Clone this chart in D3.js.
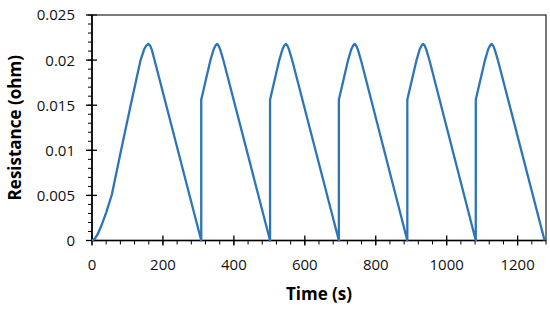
<!DOCTYPE html>
<html>
<head>
<meta charset="utf-8">
<script src="https://cdn.jsdelivr.net/npm/d3@7"></script>
<style>
  body { margin: 0; background: #fff; }
  svg { display: block; }
  .tick-label { font-family: "Open Sans", sans-serif; font-size: 15px; fill: #111; }
  .axis-title { font-family: "Open Sans", sans-serif; font-size: 17px; font-weight: bold; fill: #000; }
</style>
</head>
<body>
<div id="chart"></div>
<script>
// readings: [time (s), resistance (ohm)]
var cycle1 = [[0, 0], [8, 0.0002], [16, 0.0007], [26, 0.0016], [40, 0.0031], [56, 0.0051],
  [82, 0.0100], [109, 0.0150], [137, 0.0200], [147, 0.0212], [153, 0.0216], [159, 0.0218],
  [164, 0.0216], [169, 0.0211], [177, 0.0199], [308, 0]];
var cycle2 = [[308, 0.0156], [334, 0.0200], [343, 0.0212], [348, 0.0216], [353, 0.0218],
  [357, 0.0216], [362, 0.0211], [371, 0.0199], [502, 0]];
var cycle3 = [[502, 0.0156], [528, 0.0200], [537, 0.0212], [542, 0.0216], [547, 0.0218],
  [551, 0.0216], [556, 0.0211], [565, 0.0199], [696, 0]];
var cycle4 = [[696, 0.0156], [722, 0.0200], [731, 0.0212], [736, 0.0216], [741, 0.0218],
  [745, 0.0216], [750, 0.0211], [759, 0.0199], [889, 0]];
var cycle5 = [[889, 0.0156], [915, 0.0200], [924, 0.0212], [929, 0.0216], [934, 0.0218],
  [938, 0.0216], [943, 0.0211], [952, 0.0199], [1082, 0]];
var cycle6 = [[1082, 0.0156], [1108, 0.0200], [1117, 0.0212], [1122, 0.0216], [1127, 0.0218],
  [1131, 0.0216], [1136, 0.0211], [1145, 0.0199], [1276, 0]];

var xTicks = [0, 200, 400, 600, 800, 1000, 1200];
var yTicks = [0, 0.005, 0.01, 0.015, 0.02, 0.025];
var yTickLabels = ["0", "0.005", "0.01", "0.015", "0.02", "0.025"];
var xMax = 1280;
var yMax = 0.025;

var data = [].concat(cycle1, cycle2, cycle3, cycle4, cycle5, cycle6);

var svgWidth = 550;
var svgHeight = 311;
var margin = { top: 15, right: 4, bottom: 70.5, left: 92 };
var width = svgWidth - margin.left - margin.right;
var height = svgHeight - margin.top - margin.bottom;

var svg = d3.select("#chart").append("svg")
  .attr("width", svgWidth)
  .attr("height", svgHeight);

var chartGroup = svg.append("g")
  .attr("transform", `translate(${margin.left}, ${margin.top})`);

var xScale = d3.scaleLinear().domain([0, xMax]).range([0, width]);
var yScale = d3.scaleLinear().domain([0, yMax]).range([height, 0]);

// minor ticks (outside only)
var xMinor = d3.range(0, xMax + 1, 40);
var yMinor = d3.range(0, 26).map(d => d / 1000);

chartGroup.selectAll(".xminor").data(xMinor).enter().append("line")
  .attr("x1", d => xScale(d)).attr("x2", d => xScale(d))
  .attr("y1", height).attr("y2", height + 4)
  .attr("stroke", "#000").attr("stroke-width", 1);

chartGroup.selectAll(".yminor").data(yMinor).enter().append("line")
  .attr("y1", d => yScale(d)).attr("y2", d => yScale(d))
  .attr("x1", -4).attr("x2", 0)
  .attr("stroke", "#000").attr("stroke-width", 1);

// major ticks cross the axis
chartGroup.selectAll(".xmajor").data(xTicks).enter().append("line")
  .attr("x1", d => xScale(d)).attr("x2", d => xScale(d))
  .attr("y1", height - 5).attr("y2", height + 5)
  .attr("stroke", "#000").attr("stroke-width", 1.3);

chartGroup.selectAll(".ymajor").data(yTicks).enter().append("line")
  .attr("y1", d => yScale(d)).attr("y2", d => yScale(d))
  .attr("x1", -6).attr("x2", 5)
  .attr("stroke", "#000").attr("stroke-width", 1.3);

// tick labels
chartGroup.selectAll(".xlab").data(xTicks).enter().append("text")
  .attr("class", "tick-label")
  .attr("x", d => xScale(d))
  .attr("y", height + 29.5)
  .attr("text-anchor", "middle")
  .text(d => d);

chartGroup.selectAll(".ylab").data(yTicks).enter().append("text")
  .attr("class", "tick-label")
  .attr("x", -17)
  .attr("y", d => yScale(d))
  .attr("dy", "0.36em")
  .attr("text-anchor", "end")
  .text((d, i) => yTickLabels[i]);

// frame
chartGroup.append("rect")
  .attr("x", 0).attr("y", 0)
  .attr("width", width).attr("height", height)
  .attr("fill", "none").attr("stroke", "#222").attr("stroke-width", 1.2);

chartGroup.append("line")
  .attr("x1", 0).attr("x2", 0).attr("y1", 0).attr("y2", height)
  .attr("stroke", "#000").attr("stroke-width", 1.6);
chartGroup.append("line")
  .attr("x1", 0).attr("x2", width).attr("y1", height).attr("y2", height)
  .attr("stroke", "#000").attr("stroke-width", 1.6);

// resistance line
var line = d3.line()
  .x(d => xScale(d[0]))
  .y(d => yScale(d[1]));

chartGroup.append("path")
  .datum(data)
  .attr("d", line)
  .attr("fill", "none")
  .attr("stroke", "#2E75B6")
  .attr("stroke-width", 2.3)
  .attr("stroke-linejoin", "round");

// axis titles
svg.append("text")
  .attr("class", "axis-title")
  .attr("x", margin.left + width / 2)
  .attr("y", 300)
  .attr("text-anchor", "middle")
  .text("Time (s)");

svg.append("text")
  .attr("class", "axis-title")
  .attr("transform", "rotate(-90)")
  .attr("x", -(margin.top + height / 2))
  .attr("y", 21)
  .attr("text-anchor", "middle")
  .text("Resistance (ohm)");
</script>
</body>
</html>
